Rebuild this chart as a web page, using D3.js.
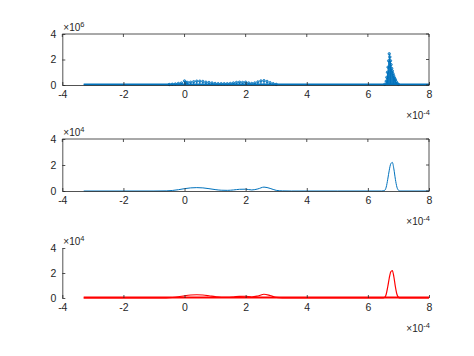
<!DOCTYPE html>
<html><head><meta charset="utf-8">
<script src="https://cdn.jsdelivr.net/npm/d3@7"></script>
<style>body{margin:0;background:#fff;} text{font-family:"Liberation Sans",Arial,sans-serif;fill:#262626;}</style>
</head><body><svg id="c" width="474" height="356"></svg>
<script>
// x values are in units of 1e-4
const xTicks = [-4,-2,0,2,4,6,8];
const yTicks = [0,2,4];
// panel 1: stem data (y in 1e6)
const stemX = [-3.3,-3.1,-2.9,-2.7,-2.5,-2.3,-2.1,-1.9,-1.7,-1.5,-1.3,-1.1,-0.9,-0.7,-0.5,-0.4,-0.3,-0.2,-0.1,0,0.05,0.1,0.2,0.3,0.4,0.5,0.6,0.7,0.8,0.9,1.0,1.1,1.2,1.3,1.4,1.5,1.6,1.7,1.8,1.9,2.0,2.1,2.2,2.3,2.4,2.5,2.6,2.7,2.8,2.9,3.0,3.2,3.4,3.6,3.8,4.0,4.2,4.4,4.6,4.8,5.0,5.2,5.4,5.6,5.8,6.0,6.2,6.4,6.55,6.6,6.62,6.64,6.66,6.68,6.7,6.72,6.74,6.76,6.78,6.8,6.82,6.84,6.86,6.88,6.9,6.93,6.96,7.0,7.1,7.3,7.5,7.7,7.9,8.0];
const stemY = [0.02,0.02,0.02,0.02,0.02,0.02,0.02,0.02,0.02,0.02,0.02,0.02,0.02,0.03,0.04,0.06,0.08,0.12,0.16,0.32,0.2,0.2,0.22,0.26,0.3,0.3,0.28,0.22,0.2,0.16,0.12,0.1,0.1,0.1,0.1,0.12,0.16,0.2,0.22,0.2,0.22,0.16,0.12,0.16,0.24,0.32,0.34,0.28,0.18,0.1,0.05,0.02,0.02,0.02,0.02,0.02,0.02,0.02,0.02,0.02,0.02,0.02,0.02,0.02,0.02,0.02,0.02,0.02,0.05,0.3,0.6,1.0,1.4,1.9,2.45,2.2,1.9,1.6,1.3,1.1,0.9,0.75,0.6,0.5,0.4,0.25,0.12,0.05,0.02,0.02,0.02,0.02,0.02,0.02];
// panels 2 & 3: smooth density curve (y in 1e4)
const kdeX = [-3.3,-2.0,-1.0,-0.6,-0.4,-0.2,0,0.2,0.4,0.6,0.8,1.0,1.2,1.4,1.6,1.8,2.0,2.2,2.4,2.6,2.8,3.0,3.2,3.5,5.0,6.45,6.55,6.6,6.65,6.7,6.75,6.8,6.85,6.9,6.95,7.0,7.05,7.15,8.0];
const kdeY = [0,0,0,0.01,0.04,0.1,0.18,0.24,0.26,0.24,0.18,0.11,0.06,0.05,0.08,0.13,0.14,0.08,0.16,0.3,0.2,0.05,0.01,0,0,0,0.05,0.3,0.9,1.6,2.1,2.2,1.7,0.9,0.3,0.06,0,0,0];

const svg = d3.select("#c");
const L = 62.3, R = 429;
const panels = [
  {top:34, bot:85, exp:"6", box:true},
  {top:139, bot:191, exp:"4", box:true},
  {top:248, bot:298, exp:"4", box:false}
];
const x = d3.scaleLinear().domain([-4,8]).range([L,R]);
const axisCol = "#262626";

panels.forEach((p,i)=>{
  const y = d3.scaleLinear().domain([0,4]).range([p.bot,p.top]);
  const g = svg.append("g");
  if(i===0){
    const pts = stemX.map((v,k)=>[v,stemY[k]]);
    g.append("line").attr("x1",x(-3.3)).attr("x2",x(8)).attr("y1",y(0)-0.5).attr("y2",y(0)-0.5)
      .attr("stroke","#0072BD").attr("stroke-width",2.2);
    g.selectAll("line.stem").data(pts).enter().append("line")
      .attr("x1",d=>x(d[0])).attr("x2",d=>x(d[0]))
      .attr("y1",y(0)).attr("y2",d=>y(d[1]))
      .attr("stroke","#0072BD").attr("stroke-width",1);
    g.selectAll("circle").data(pts.filter(d=>d[1]>0.03)).enter().append("circle")
      .attr("cx",d=>x(d[0])).attr("cy",d=>y(d[1])).attr("r",1.2)
      .attr("fill","#0072BD").attr("fill-opacity",0.5).attr("stroke","#0072BD").attr("stroke-width",0.8);
  } else {
    const line = d3.line().x((d,k)=>x(kdeX[k])).y(d=>y(d)).curve(d3.curveMonotoneX);
    if(i===2){
      g.append("line").attr("x1",x(-3.3)).attr("x2",x(8)).attr("y1",y(0)-0.5).attr("y2",y(0)-0.5)
        .attr("stroke","#FF0000").attr("stroke-width",2);
    }
    g.append("path").attr("d",line(kdeY)).attr("fill","none")
      .attr("stroke", i===1 ? "#0072BD" : "#FF0000")
      .attr("stroke-width", i===1 ? 1 : 1.2);
  }
  const fmt = d=>String(d);
  const xa = d3.axisBottom(x).tickValues(xTicks).tickFormat(fmt).tickSizeInner(-3).tickSizeOuter(0).tickPadding(6);
  const ya = d3.axisLeft(y).tickValues(yTicks).tickFormat(fmt).tickSizeInner(-3).tickSizeOuter(0).tickPadding(6);
  const gx = svg.append("g").attr("transform",`translate(0,${p.bot})`).call(xa);
  const gy = svg.append("g").attr("transform",`translate(${L},0)`).call(ya);
  [gx,gy].forEach(a=>{
    a.select(".domain").attr("stroke",axisCol).attr("stroke-width",0.8);
    a.selectAll(".tick line").attr("stroke",axisCol).attr("stroke-width",0.8);
    a.selectAll("text").attr("font-size",10.5).attr("fill",axisCol).style("font-family","Liberation Sans, Arial, sans-serif");
  });
  if(i===2){ gx.select(".domain").attr("stroke","none"); }
  if(p.box){
    svg.append("line").attr("x1",L).attr("x2",R).attr("y1",p.top).attr("y2",p.top).attr("stroke",axisCol).attr("stroke-width",0.8);
    svg.append("line").attr("x1",R).attr("x2",R).attr("y1",p.top).attr("y2",p.bot).attr("stroke",axisCol).attr("stroke-width",0.8);
    xTicks.forEach(t=>svg.append("line").attr("x1",x(t)).attr("x2",x(t)).attr("y1",p.top).attr("y2",p.top+3).attr("stroke",axisCol).attr("stroke-width",0.8));
    yTicks.forEach(t=>svg.append("line").attr("x1",R).attr("x2",R-3).attr("y1",y(t)).attr("y2",y(t)).attr("stroke",axisCol).attr("stroke-width",0.8));
  }
  const ty = svg.append("text").attr("x",L+1).attr("y",p.top-3).attr("font-size",10);
  ty.append("tspan").text("\u00d710");
  ty.append("tspan").attr("dy",-4).attr("font-size",7.5).text(p.exp);
  const tx = svg.append("text").attr("x",R+1).attr("y",p.bot+34).attr("font-size",10).attr("text-anchor","end");
  tx.append("tspan").text("\u00d710");
  tx.append("tspan").attr("dy",-4).attr("font-size",7.5).text("-4");
});
</script></body></html>
